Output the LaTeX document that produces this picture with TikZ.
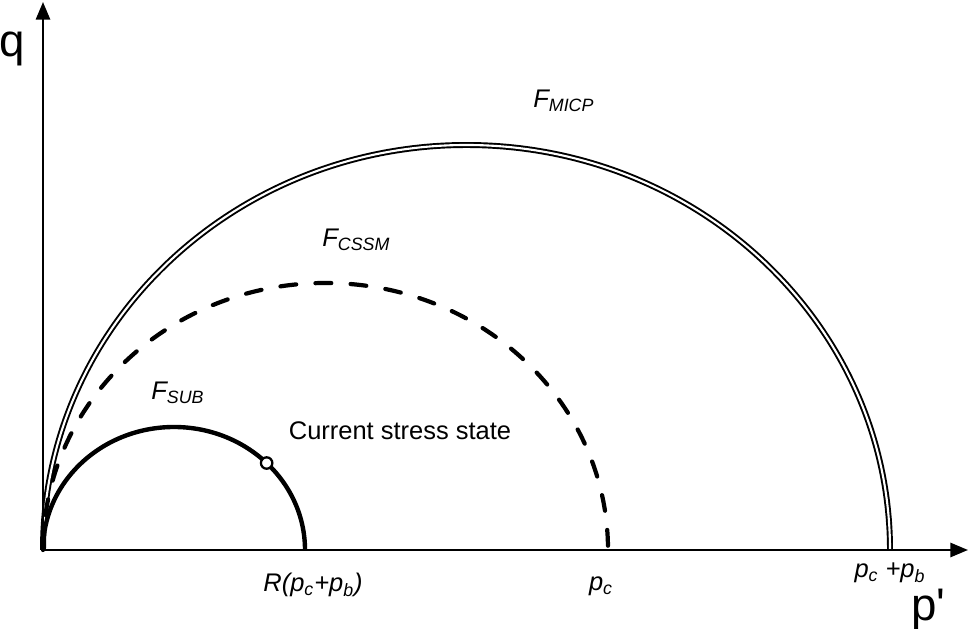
\documentclass[tikz,border=0pt]{standalone}
\usepackage{fontspec}
\setmainfont{Liberation Sans}
\usetikzlibrary{arrows.meta,calc}
\begin{document}
\begin{tikzpicture}[x=0.02cm,y=0.02cm,
  axis/.style={line width=1.4pt,-{Triangle[length=10pt,width=8pt]}},
  subline/.style={line width=2.5pt},
  cssmline/.style={line width=2.4pt, dash pattern=on 9pt off 11pt, line cap=round},
  micpline/.style={double, line width=1.1pt, double distance=1.2pt},
  lbl/.style={inner sep=0pt, font=\fontsize{14.5}{17}\selectfont},
  axlbl/.style={inner sep=0pt, font=\fontsize{26}{30}\selectfont},
  marker/.style={circle, draw, fill=white, line width=1.3pt, minimum size=6.5pt, inner sep=0pt}
]
\useasboundingbox (0,0) rectangle (969,628);
\coordinate (O) at (43,78);
\coordinate (X) at (968,78);
\coordinate (Y) at (43,626);
\coordinate (csub) at (174,78);
% yield surfaces
\draw[micpline] (O) arc[start angle=180,end angle=0,x radius=423.5,y radius=405];
\draw[cssmline] (O) arc[start angle=180,end angle=0,x radius=282.5,y radius=267];
\draw[subline] (O) arc[start angle=180,end angle=0,x radius=131,y radius=123];
% axes
\draw[axis] (O) -- (X);
\draw[axis] (O) -- (Y);
% current stress state
\node[marker] (state) at ($(csub)+(45:131 and 123)$) {};
% labels
\node[axlbl, anchor=base west] (qlbl) at (-1,571) {q};
\node[axlbl, anchor=base west] (plbl) at (911,8) {p\textquotesingle};
\node[lbl, anchor=base west] (fmicp) at (533,520) {\textit{F\textsubscript{MICP}}};
\node[lbl, anchor=base west] (fcssm) at (322,381) {\textit{F\textsubscript{CSSM}}};
\node[lbl, anchor=base west] (fsub) at (151,228) {\textit{F\textsubscript{SUB}}};
\node[lbl, anchor=base] (cur) at (400,188) {Current stress state};
\node[lbl, anchor=base] (rlbl) at (313,36) {\textit{R(p\textsubscript{c}+p\textsubscript{b})}};
\node[lbl, anchor=base] (pclbl) at (601,37) {\textit{p\textsubscript{c}}};
\node[lbl, anchor=base] (pcpb) at (890,50) {\textit{p\textsubscript{c} +p\textsubscript{b}}};
\end{tikzpicture}
\end{document}
